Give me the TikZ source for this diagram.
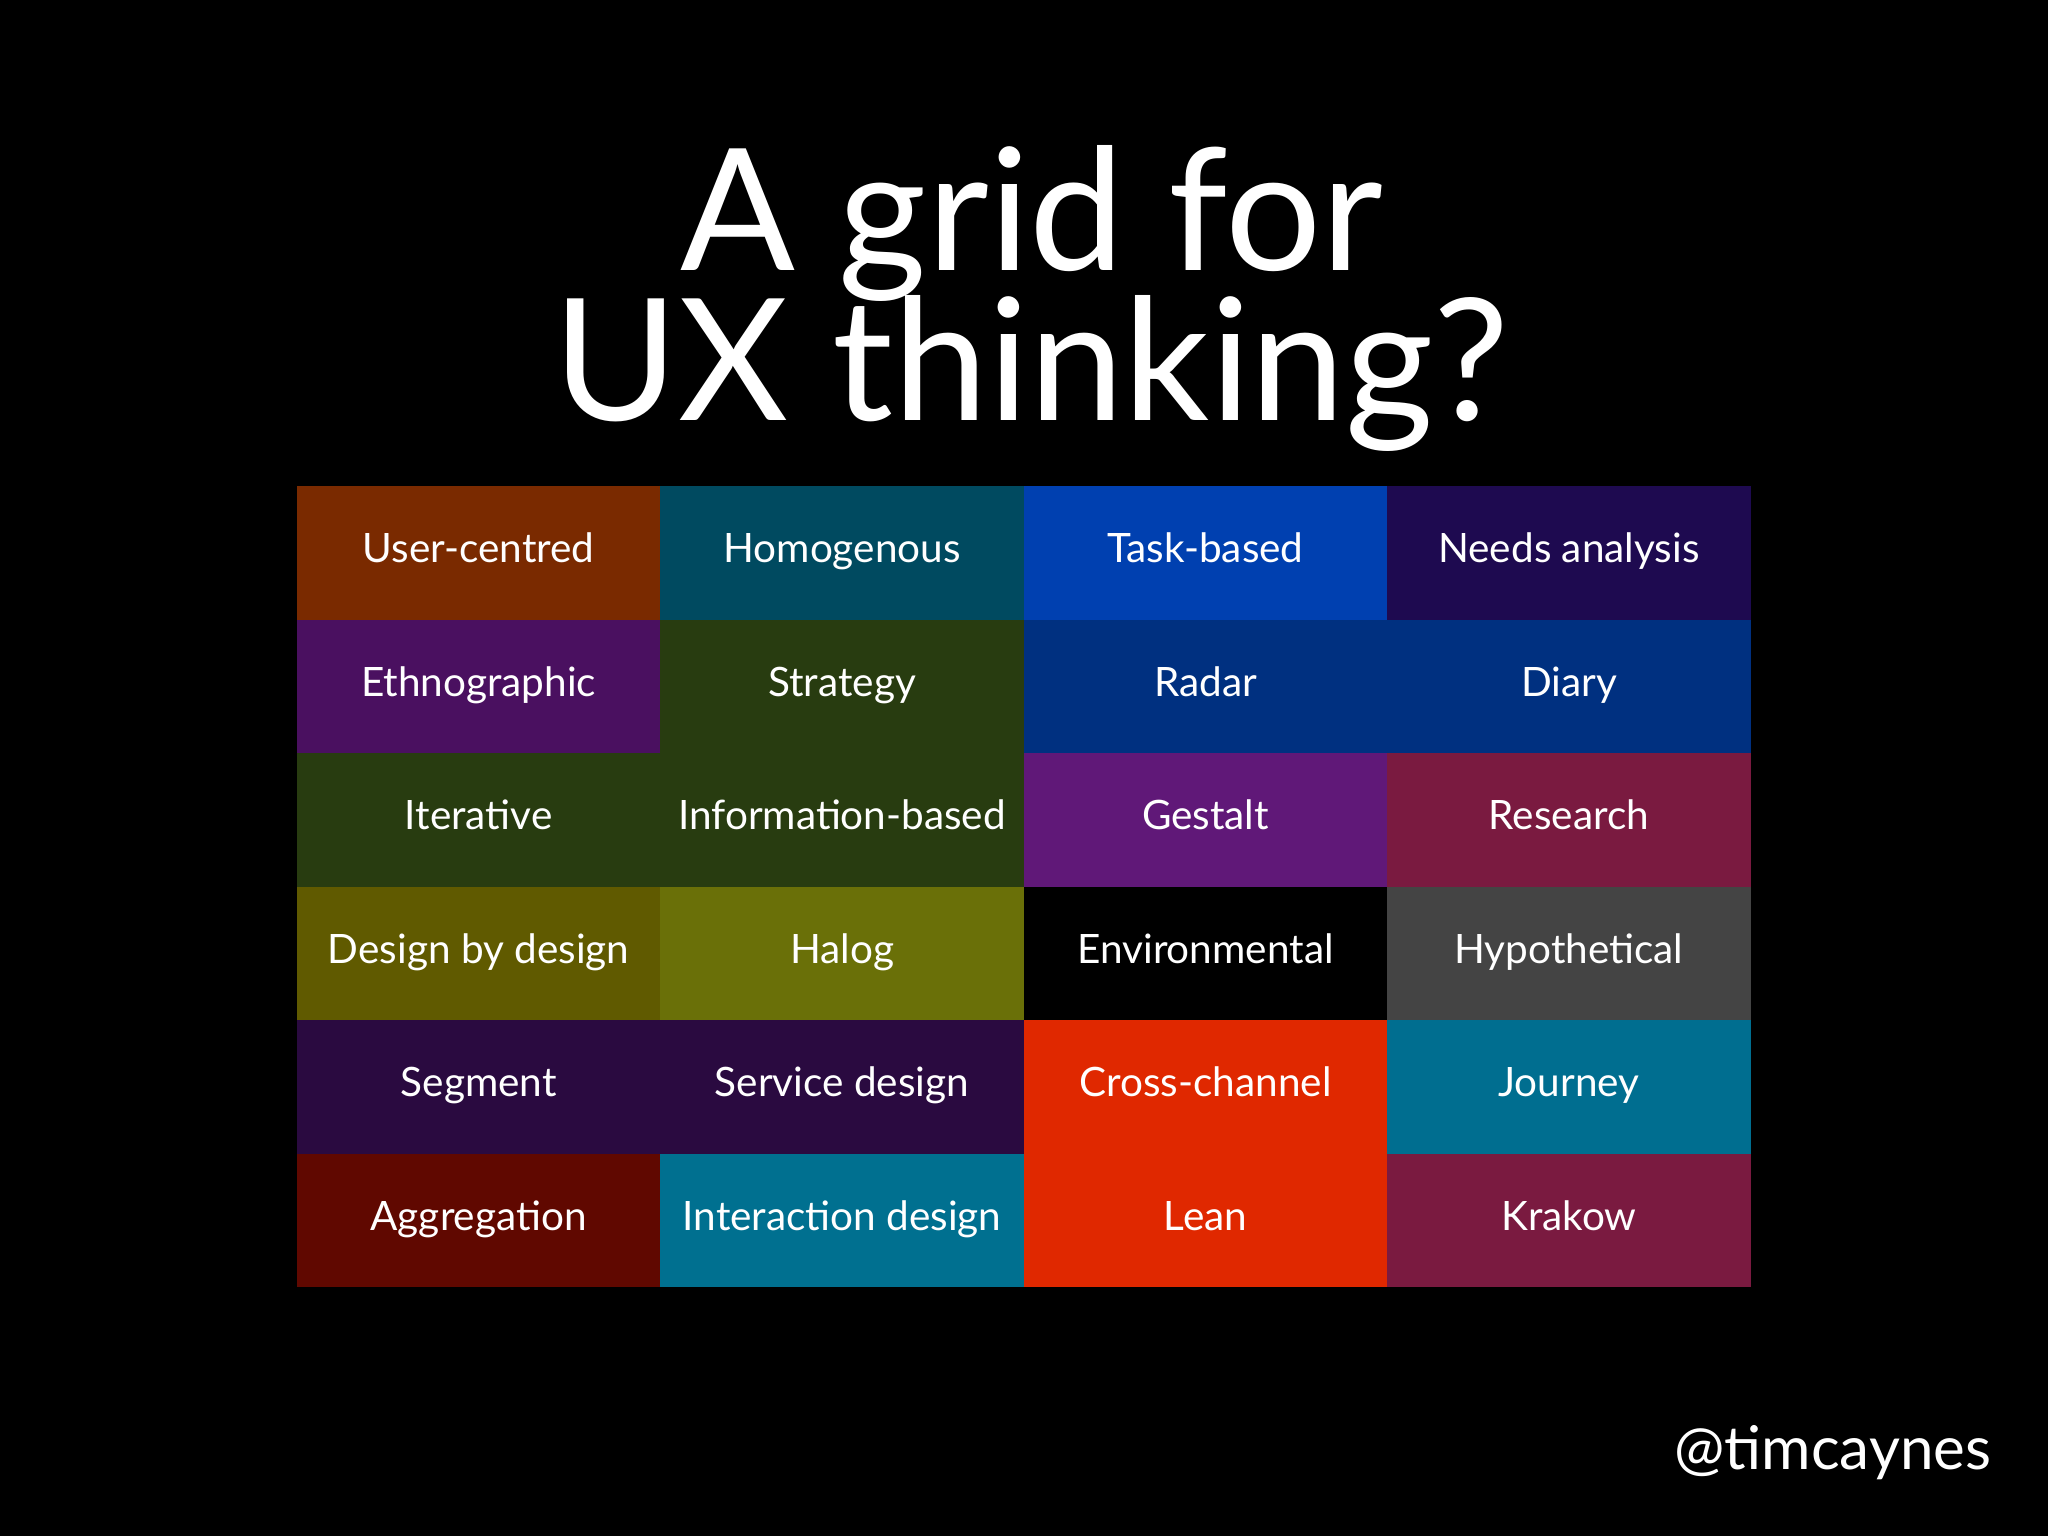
\documentclass[tikz,border=0pt]{standalone}
\usepackage{fontspec}
\setmainfont{Lato}
\definecolor{c11}{HTML}{7A2A00}\definecolor{c12}{HTML}{004A60}\definecolor{c13}{HTML}{0040B0}\definecolor{c14}{HTML}{1E0A50}
\definecolor{c21}{HTML}{4A1060}\definecolor{c22}{HTML}{283C10}\definecolor{c23}{HTML}{003080}\definecolor{c24}{HTML}{003080}
\definecolor{c31}{HTML}{283C10}\definecolor{c32}{HTML}{283C10}\definecolor{c33}{HTML}{601878}\definecolor{c34}{HTML}{7A1A40}
\definecolor{c41}{HTML}{605A00}\definecolor{c42}{HTML}{6A7008}\definecolor{c43}{HTML}{000000}\definecolor{c44}{HTML}{444444}
\definecolor{c51}{HTML}{2A0A40}\definecolor{c52}{HTML}{2A0A40}\definecolor{c53}{HTML}{E02800}\definecolor{c54}{HTML}{006E90}
\definecolor{c61}{HTML}{600800}\definecolor{c62}{HTML}{007090}\definecolor{c63}{HTML}{E02800}\definecolor{c64}{HTML}{7A1A40}
\tikzset{cell/.style={minimum width=278.5pt,minimum height=102.2pt,inner sep=0pt,text=white,text height=22pt,text depth=7pt,font=\fontsize{31}{36}\selectfont,anchor=north west}}
\begin{document}
\begin{tikzpicture}[x=1pt,y=-1pt]
\fill[black] (0,0) rectangle (1568,1176);
\useasboundingbox (0,0) rectangle (1568,1176);
\node[text=white,font=\fontsize{130}{140}\selectfont,anchor=base] (t1) at (790,207) {A grid for};
\node[text=white,font=\fontsize{130}{140}\selectfont,anchor=base] (t2) at (790,322) {UX thinking?};
\foreach \r/\a/\b/\c/\d in {1/User-centred/Homogenous/Task-based/Needs analysis,
 2/Ethnographic/Strategy/Radar/Diary,
 3/Iterative/Information-based/Gestalt/Research,
 4/Design by design/Halog/Environmental/Hypothetical,
 5/Segment/Service design/Cross-channel/Journey,
 6/Aggregation/Interaction design/Lean/Krakow}{
 \foreach \k/\txt in {1/\a,2/\b,3/\c,4/\d}{
  \node[cell,fill=c\r\k] (n\r\k) at ({227+278.25*(\k-1)},{372+102.2*(\r-1)}) {\txt};
 }
}
\node[text=white,font=\fontsize{46}{50}\selectfont,anchor=base east] (h) at (1528,1125) {@timcaynes};
\end{tikzpicture}
\end{document}
